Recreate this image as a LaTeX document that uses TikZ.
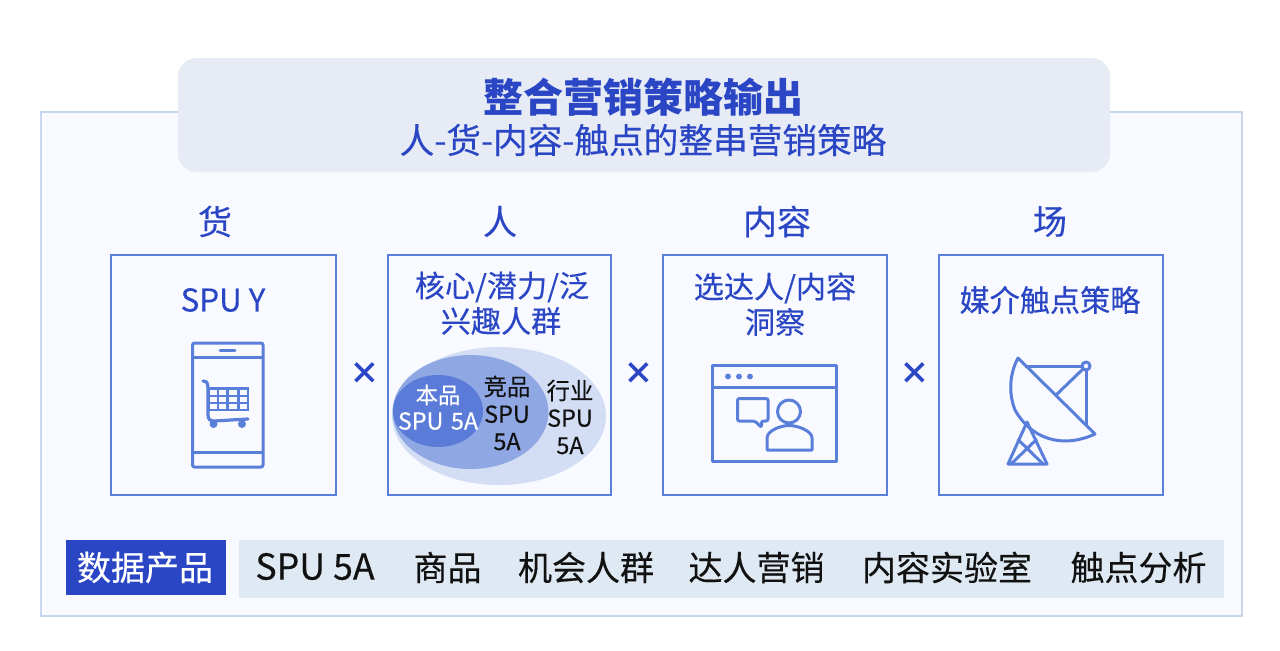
\documentclass[tikz,border=0pt]{standalone}
\usepackage{fontspec}
\setmainfont{Noto Sans CJK SC}[UprightFeatures={FakeBold=0.3}]
\newcommand{\fs}[1]{\fontsize{#1}{#1}\selectfont}
\definecolor{panelfill}{HTML}{F8FAFF}
\definecolor{panelline}{HTML}{C6D7EE}
\definecolor{titlefill}{HTML}{E6EBF5}
\definecolor{bluetext}{HTML}{2A46C4}
\definecolor{boxline}{HTML}{5A7FDB}
\definecolor{bandfill}{HTML}{DFE9F3}
\definecolor{ellA}{HTML}{D3DEF4}
\definecolor{ellB}{HTML}{8FA7E3}
\definecolor{ellC}{HTML}{5A7BD8}
\definecolor{inktext}{HTML}{111111}
\tikzset{
  bluelabel/.style={text=bluetext,inner sep=0pt,align=center},
  card/.style={draw=boxline,line width=1.7pt,fill=panelfill},
  icon/.style={draw=boxline,line width=3pt*0.75,line join=round},
  bandtext/.style={text=inktext,inner sep=0pt,font=\fs{25.5}},
  venntext/.style={text=inktext,inner sep=0pt,align=center,font=\fs{17.5}},
}
\begin{document}
\begin{tikzpicture}[x=0.75pt,y=-0.75pt]
\useasboundingbox (0,0) rectangle (1280,650);
\fill[white] (0,0) rectangle (1280,650);
\draw[draw=panelline,fill=panelfill,line width=1.6pt] (41,112) rectangle (1242,616);
\fill[titlefill,rounded corners=14pt] (178,58) rectangle (1110,172);
\node[bluelabel,font=\fs{30}\bfseries] (title) at (643.5,97) {整合营销策略输出};
\node[bluelabel,font=\fs{26}] (subtitle) at (643,140) {人-货-内容-触点的整串营销策略};
% columns
\node[bluelabel,font=\fs{25.5}] (h1) at (215,221.5) {货};
\node[bluelabel,font=\fs{25.5}] (h2) at (500,221.5) {人};
\node[bluelabel,font=\fs{25.5}] (h3) at (777,221.5) {内容};
\node[bluelabel,font=\fs{25.5}] (h4) at (1050,221.5) {场};
\draw[card] (111,255) rectangle (336,495);
\draw[card] (388,255) rectangle (611,495);
\draw[card] (663,255) rectangle (887,495);
\draw[card] (939,255) rectangle (1163,495);
\node[bluelabel,font=\fs{23.5}] (c1) at (223,300) {SPU Y};
\node[bluelabel,font=\fs{22.6}] (c2a) at (502,287) {核心/潜力/泛};
\node[bluelabel,font=\fs{22.6}] (c2b) at (501,321) {兴趣人群};
\node[bluelabel,font=\fs{22.6}] (c3a) at (775,288) {选达人/内容};
\node[bluelabel,font=\fs{22.6}] (c3b) at (775,322) {洞察};
\node[bluelabel,font=\fs{22.6}] (c4) at (1050,300) {媒介触点策略};
\node[bluelabel,font=\fs{23}\bfseries] (x1) at (365,374) {×};
\node[bluelabel,font=\fs{23}\bfseries] (x2) at (639,374) {×};
\node[bluelabel,font=\fs{23}\bfseries] (x3) at (915,374) {×};
% phone
\draw[icon,rounded corners=1.5pt] (192.5,343) rectangle (263,467);
\draw[icon] (192.5,357) -- (263,357) (192.5,452) -- (263,452);
\draw[icon,line cap=round] (220,350) -- (235,350);
% cart
\begin{scope}[line width=2.2pt*0.75,draw=boxline]
\draw[line cap=round,line width=2.4pt] (203,381) .. controls (209,381) and (207.5,386) .. (208,390) -- (208,415) .. controls (208,419) and (210,421) .. (214,421) -- (248,419);
\fill[boxline] (208,387) rectangle (249,411);
\foreach \xa/\xb in {209.5/217,219/226,229/236.5,239.5/247}{
  \fill[panelfill] (\xa,389.5) rectangle (\xb,394.5);
  \fill[panelfill] (\xa,396.5) rectangle (\xb,401.5);
  \fill[panelfill] (\xa,403.5) rectangle (\xb,409);
}
\fill[boxline] (213.5,424) circle (3pt);
\fill[boxline] (242,424) circle (3pt);
\end{scope}
% venn
\fill[ellA] (499,416) ellipse (107 and 69);
\fill[ellB] (470.5,412) ellipse (78 and 57);
\fill[ellC] (438,411) ellipse (45 and 36);
\node[venntext,text=white,font=\fs{16.8}] (v1a) at (438,395) {本品};
\node[venntext,text=white,font=\fs{17.5}] (v1b) at (438,421) {SPU\hspace{0.1em} 5A};
\node[venntext] (v2) at (507,413) {竞品\\[3pt]SPU\\[3pt]5A};
\node[venntext] (v3) at (570,417) {行业\\[3pt]SPU\\[3pt]5A};
% window
\draw[icon] (712,365) rectangle (836,461);
\draw[icon] (712,387.5) -- (836,387.5);
\foreach \x in {728,739,750}{\fill[boxline] (\x,376.5) circle (2.2pt);}
\draw[icon,rounded corners=1.5pt] (737.5,398.5) -- (768,398.5) -- (768,421) -- (761.5,421) -- (761.5,427.5) -- (755,421) -- (737.5,421) -- cycle;
\draw[icon] (789,411.5) circle (11.5);
\draw[icon] (767,450) -- (767,438) .. controls (767,431) and (780,425.5) .. (789,425.5) .. controls (798,425.5) and (812,431) .. (812,438) -- (812,450) -- cycle;
% dish
\draw[icon] (1018,358) -- (1095,434) .. controls (1060,450) and (1030,437) .. (1015,410) .. controls (1008,392) and (1010,373) .. (1018,358) -- cycle;
\draw[icon] (1025,366) -- (1082,366);
\draw[icon] (1086,370) -- (1086,425);
\draw[icon] (1055,396) -- (1083,369);
\draw[icon,fill=panelfill] (1086,366) circle (4);
\draw[icon] (1027,422) -- (1008,464) -- (1047,464) -- cycle;
\draw[icon] (1017.5,439) -- (1043,464) (1037,439) -- (1011,464);
% bottom band
\fill[bluetext] (66,540) rectangle (226,595);
\node[inner sep=0pt,text=white,font=\fs{25.5}] (dp) at (145,567.5) {数据产品};
\fill[bandfill] (239,540) rectangle (1224,598);
\node[bandtext,font=\fs{26.8}] (b1) at (315,566.5) {SPU 5A};
\node[bandtext] (b2) at (447.5,567.5) {商品};
\node[bandtext] (b3) at (586,567.5) {机会人群};
\node[bandtext] (b4) at (756.5,567.5) {达人营销};
\node[bandtext] (b5) at (947,567.5) {内容实验室};
\node[bandtext] (b6) at (1138.5,567.5) {触点分析};
\end{tikzpicture}
\end{document}
